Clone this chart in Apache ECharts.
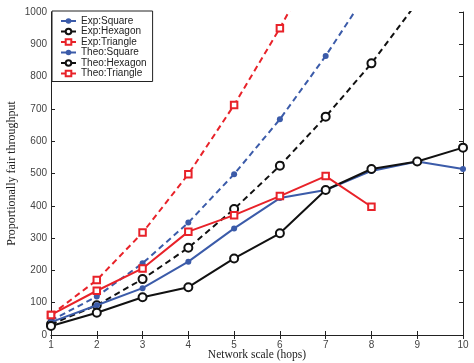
<!DOCTYPE html>
<html><head><meta charset="utf-8">
<script src="https://cdn.jsdelivr.net/npm/echarts@6/dist/echarts.min.js"></script>
<style>html,body{margin:0;padding:0;background:#fff}#c{width:474px;height:363px}</style>
</head><body><div id="c"></div>
<script>
const hops = [1, 2, 3, 4, 5, 6, 7, 8, 9, 10];
const yTicks = [0, 100, 200, 300, 400, 500, 600, 700, 800, 900, 1000];
const expSquare   = [40, 92, 145, 227, 330, 424, 449, 508, 537, 514];
const expHexagon  = [28, 69, 117, 148, 237, 315, 449, 514, 537, 580];
const expTriangle = [62, 137, 206, 320, 371, 430, 492, 397];
const theoSquare  = [45, 119, 222, 348, 498, 668, 864, 1080];
const theoHexagon = [33, 92, 173, 270, 390, 524, 676, 841, 1030];
const theoTriangle= [62, 170, 317, 498, 712, 950, 1210];

const BLUE = '#3b5ba9', RED = '#e82229', BLACK = '#111';
const pairs = arr => arr.map((v, i) => [hops[i], v]);

function mk(name, data, color, dashed, symbol, size, filled) {
  return {
    name, type: 'line', data: pairs(data), clip: true,
    lineStyle: { color, width: 2, type: dashed ? [6, 4] : 'solid' },
    itemStyle: { color, borderColor: color, borderWidth: filled ? 0 : 1.8 },
    symbol, symbolSize: size, showSymbol: true, z: dashed ? 2 : 3,
    animation: false
  };
}

const chart = echarts.init(document.getElementById('c'));
const axisLine = { show: true, lineStyle: { color: '#222', width: 1 } };
const label = { color: '#444', fontSize: 10, fontFamily: 'Liberation Sans, Arial' };
chart.setOption({
  animation: false,
  grid: { left: 51, right: 11, top: 12, bottom: 28, outerBoundsMode: 'none', containLabel: false },
  xAxis: [
    { type: 'value', min: hops[0], max: hops[hops.length - 1], interval: 1,
      axisLine, axisTick: { inside: true, length: 4, lineStyle: { color: '#222' } },
      axisLabel: { ...label, margin: 5 }, splitLine: { show: false },
      name: 'Network scale (hops)', nameLocation: 'middle', nameGap: 14, nameMoveOverlap: false,
      nameTextStyle: { fontFamily: 'Liberation Serif, Times New Roman', fontSize: 11.5, color: '#222' } },
    { type: 'value', position: 'top', min: hops[0], max: hops[hops.length - 1], interval: 1,
      axisLine, axisTick: { inside: true, length: 4, lineStyle: { color: '#222' } },
      axisLabel: { show: false }, splitLine: { show: false } }
  ],
  yAxis: [
    { type: 'value', min: yTicks[0], max: yTicks[yTicks.length - 1], interval: 100,
      axisLine, axisTick: { inside: true, length: 4, lineStyle: { color: '#222' } },
      axisLabel: { ...label, margin: 4, formatter: v => String(v) }, splitLine: { show: false },
      name: 'Proportionally fair throughput', nameLocation: 'middle', nameGap: 33, nameMoveOverlap: false,
      nameTextStyle: { fontFamily: 'Liberation Serif, Times New Roman', fontSize: 12, color: '#222' } },
    { type: 'value', position: 'right', min: yTicks[0], max: yTicks[yTicks.length - 1], interval: 100,
      axisLine, axisTick: { inside: true, length: 4, lineStyle: { color: '#222' } },
      axisLabel: { show: false }, splitLine: { show: false } }
  ],
  legend: {
    left: 52, top: 11, orient: 'vertical',
    backgroundColor: '#fff', borderColor: '#222', borderWidth: 1,
    padding: [5, 6, 3, 8], itemWidth: 15, itemHeight: 7, itemGap: 0.5,
    lineStyle: { type: 'solid', width: 2 },
    textStyle: { fontSize: 10, color: '#222', fontFamily: 'Liberation Sans, Arial' },
    data: ['Exp:Square', 'Exp:Hexagon', 'Exp:Triangle', 'Theo:Square', 'Theo:Hexagon', 'Theo:Triangle']
  },
  series: [
    mk('Exp:Square', expSquare, BLUE, false, 'circle', 6, true),
    mk('Exp:Hexagon', expHexagon, BLACK, false, 'emptyCircle', 8, false),
    mk('Exp:Triangle', expTriangle, RED, false, 'emptyRect', 6.5, false),
    mk('Theo:Square', theoSquare, BLUE, true, 'circle', 6, true),
    mk('Theo:Hexagon', theoHexagon, BLACK, true, 'emptyCircle', 8, false),
    mk('Theo:Triangle', theoTriangle, RED, true, 'emptyRect', 6.5, false)
  ]
});
</script></body></html>
